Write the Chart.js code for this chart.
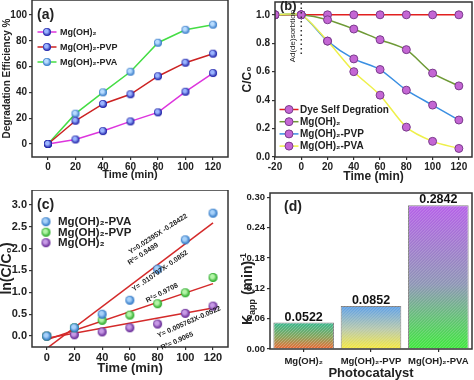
<!DOCTYPE html>
<html>
<head>
<meta charset="utf-8">
<script src="https://cdn.jsdelivr.net/npm/chart.js@4.4.1/dist/chart.umd.min.js"></script>
<style>
  body { margin: 0; background: #fff; width: 474px; height: 380px; position: relative; overflow: hidden; }
  .panel { position: absolute; width: 237px; height: 190px; }
</style>
</head>
<body>
<div class="panel" style="left:0;top:0"><canvas id="chartA" width="237" height="190"></canvas></div>
<div class="panel" style="left:237px;top:0"><canvas id="chartB" width="237" height="190"></canvas></div>
<div class="panel" style="left:0;top:190px"><canvas id="chartC" width="237" height="190"></canvas></div>
<div class="panel" style="left:237px;top:190px"><canvas id="chartD" width="237" height="190"></canvas></div>
<script>
// (a) degradation efficiency vs time
const timeMin = [0, 20, 40, 60, 80, 100, 120];
const effMg = [0, 3.5, 10, 17.5, 24.5, 40.5, 55];
const effPVP = [0, 18, 31, 38.5, 52.5, 63, 70];
const effPVA = [0, 23.5, 40, 56, 78.5, 88.5, 92.5];

// (b) C/C0 vs time, first point is the dark adsorption step
const timeB = [-20, 0, 20, 40, 60, 80, 100, 120];
const ratioDye = [1, 1, 1, 1, 1, 1, 1, 1];
const ratioMg = [1, 1, 0.965, 0.90, 0.825, 0.755, 0.59, 0.50];
const ratioPVP = [1, 1, 0.815, 0.69, 0.615, 0.47, 0.365, 0.26];
const ratioPVA = [1, 1, 0.815, 0.60, 0.435, 0.21, 0.11, 0.06];

// (c) kinetics
const lnPVA = [0, 0.19, 0.50, 0.82, 1.53, 2.20, 2.81];
const lnPVP = [0, 0.19, 0.36, 0.48, 0.74, 0.99, 1.34];
const lnMg = [0, 0.03, 0.095, 0.19, 0.275, 0.52, 0.685];
const fitSlope = [0.02395, 0.010707, 0.005763];
const fitIntercept = [-0.28422, -0.0852, -0.0522];

// (d) rate constants
const catalysts = ['Mg(OH)₂', 'Mg(OH)₂-PVP', 'Mg(OH)₂-PVA'];
const kApp = [0.0522, 0.0852, 0.2842];

Chart.defaults.font.family = "'Liberation Sans', Arial, sans-serif";
Chart.defaults.font.weight = 'bold';
Chart.defaults.color = '#222';
Chart.defaults.animation = false;
Chart.defaults.events = [];
Chart.defaults.plugins.legend.display = false;
Chart.defaults.plugins.tooltip.enabled = false;

function xy(xs, ys) {
  return xs.map((x, i) => ({ x: x, y: ys[i] }));
}

// little shaded ball used as marker
function sphere(r, light, dark) {
  const c = document.createElement('canvas');
  c.width = c.height = r * 2 + 2;
  const g = c.getContext('2d');
  const grad = g.createRadialGradient(r * 0.7 + 1, r * 0.65 + 1, r * 0.1, r + 1, r + 1, r);
  grad.addColorStop(0, light);
  grad.addColorStop(0.35, light);
  grad.addColorStop(1, dark);
  g.fillStyle = grad;
  g.beginPath();
  g.arc(r + 1, r + 1, r, 0, Math.PI * 2);
  g.fill();
  return c;
}

// fixed axis box sizes so the plot areas sit where they are in the figure
function fixSize(w, h) {
  return s => {
    if (w !== null) s.width = w;
    if (h !== null) s.height = h;
    s.paddingTop = s.paddingBottom = s.paddingLeft = s.paddingRight = 0;
  };
}

const tickGrid = { drawOnChartArea: false, drawTicks: true, tickLength: 3, color: '#333', lineWidth: 1.2 };

const framePlugin = {
  id: 'frame',
  afterDraw(chart) {
    const { ctx, chartArea: a } = chart;
    ctx.save();
    ctx.strokeStyle = '#333';
    ctx.lineWidth = 1.5;
    ctx.strokeRect(a.left, a.top, a.right - a.left, a.bottom - a.top);
    ctx.restore();
  }
};

// legend drawn inside the plot box
const boxLegend = {
  id: 'boxLegend',
  afterDraw(chart, args, opts) {
    if (!opts.rows) return;
    const ctx = chart.ctx;
    ctx.save();
    ctx.font = opts.font;
    ctx.textBaseline = 'middle';
    ctx.textAlign = 'left';
    opts.rows.forEach((idx, k) => {
      const ds = chart.data.datasets[idx];
      const y = opts.y + k * opts.gap;
      if (opts.line) {
        ctx.strokeStyle = ds.borderColor;
        ctx.lineWidth = 1.5;
        ctx.beginPath();
        ctx.moveTo(opts.x - opts.line / 2, y);
        ctx.lineTo(opts.x + opts.line / 2, y);
        ctx.stroke();
      }
      const ps = ds.pointStyle;
      if (ps && ps.getContext) {
        ctx.drawImage(ps, opts.x - ps.width / 2, y - ps.height / 2);
      } else {
        ctx.fillStyle = ds.pointBackgroundColor;
        ctx.strokeStyle = ds.pointBorderColor;
        ctx.lineWidth = 1;
        ctx.beginPath();
        ctx.arc(opts.x, y, 4, 0, Math.PI * 2);
        ctx.fill();
        ctx.stroke();
      }
      ctx.fillStyle = '#222';
      ctx.fillText(ds.label, opts.textX, y + 0.5);
    });
    ctx.restore();
  }
};

// free text: panel letters, fit equations
const notes = {
  id: 'notes',
  afterDraw(chart, args, opts) {
    if (!opts.items) return;
    const ctx = chart.ctx;
    opts.items.forEach(n => {
      ctx.save();
      ctx.translate(n.x, n.y);
      ctx.rotate((n.angle || 0) * Math.PI / 180);
      ctx.font = n.font;
      ctx.textAlign = n.align || 'center';
      ctx.textBaseline = 'middle';
      ctx.fillStyle = '#222';
      ctx.fillText(n.text, 0, 0);
      ctx.restore();
    });
  }
};

// ---------- (a) ----------
const ballBlue = sphere(4, '#9ab4ff', '#1212a0');
const ballSky = sphere(4, '#b8dcff', '#2a72c4');

new Chart(document.getElementById('chartA'), {
  type: 'line',
  data: {
    datasets: [
      { label: 'Mg(OH)₂', data: xy(timeMin, effMg), borderColor: '#dd35dd', pointStyle: ballBlue },
      { label: 'Mg(OH)₂-PVP', data: xy(timeMin, effPVP), borderColor: '#cc2222', pointStyle: ballBlue },
      { label: 'Mg(OH)₂-PVA', data: xy(timeMin, effPVA), borderColor: '#44dd44', pointStyle: ballSky }
    ]
  },
  options: {
    responsive: false,
    layout: { autoPadding: false, padding: { top: 0, right: 9, bottom: 0, left: 0 } },
    elements: { line: { borderWidth: 1.5, tension: 0 }, point: { radius: 4 } },
    scales: {
      x: {
        type: 'linear', min: -11.6, max: 130.9,
        ticks: { stepSize: 20, includeBounds: false, padding: 1, maxRotation: 0, font: { size: 10 } },
        grid: tickGrid, border: { display: false },
        title: { display: true, text: 'Time (min)', font: { size: 11 }, padding: { top: 0, bottom: 8.4 } },
        afterFit: fixSize(null, 33)
      },
      y: {
        min: -10.1, max: 111.6,
        ticks: { stepSize: 20, includeBounds: false, padding: 2, font: { size: 10 } },
        grid: tickGrid, border: { display: false },
        title: { display: true, text: 'Degradation Efficiency %', font: { size: 10 }, padding: { top: 1, bottom: 0 } },
        afterFit: fixSize(32, null)
      }
    },
    plugins: {
      boxLegend: { rows: [0, 1, 2], x: 47, y: 32, gap: 15, line: 19, textX: 60, font: "bold 9px 'Liberation Sans', Arial, sans-serif" },
      notes: { items: [{ text: '(a)', x: 37, y: 15, align: 'left', font: "bold 14px 'Liberation Sans', Arial, sans-serif" }] }
    }
  },
  plugins: [framePlugin, boxLegend, notes]
});

// ---------- (b) ----------
const adsorbPlugin = {
  id: 'adsorb',
  afterDatasetsDraw(chart) {
    const { ctx, scales: { x, y } } = chart;
    const px = x.getPixelForValue(0);
    ctx.save();
    ctx.strokeStyle = '#333';
    ctx.lineWidth = 1.5;
    ctx.setLineDash([1.5, 3]);
    ctx.beginPath();
    ctx.moveTo(px, chart.chartArea.top + 1);
    ctx.lineTo(px, y.getPixelForValue(0.71));
    ctx.stroke();
    ctx.setLineDash([]);
    ctx.translate(px - 8, y.getPixelForValue(0.85));
    ctx.rotate(-Math.PI / 2);
    ctx.font = "8px 'Liberation Sans', Arial, sans-serif";
    ctx.textAlign = 'center';
    ctx.textBaseline = 'middle';
    ctx.fillStyle = '#222';
    ctx.fillText('Ad(de)sorbtion', 0, 0);
    ctx.restore();
  }
};

const dotB = { pointBackgroundColor: '#c466d4', pointBorderColor: '#7a3a8c', pointBorderWidth: 1, pointRadius: 4 };

new Chart(document.getElementById('chartB'), {
  type: 'line',
  data: {
    datasets: [
      Object.assign({ label: 'Dye Self Degration', data: xy(timeB, ratioDye), borderColor: '#e21f1f', order: 4 }, dotB),
      Object.assign({ label: 'Mg(OH)₂', data: xy(timeB, ratioMg), borderColor: '#6e9a36', order: 3 }, dotB),
      Object.assign({ label: 'Mg(OH)₂-PVP', data: xy(timeB, ratioPVP), borderColor: '#3a8fe2', order: 2 }, dotB),
      Object.assign({ label: 'Mg(OH)₂-PVA', data: xy(timeB, ratioPVA), borderColor: '#eef04a', order: 1 }, dotB)
    ]
  },
  options: {
    responsive: false,
    layout: { autoPadding: false, padding: { top: 2, right: 2, bottom: 0, left: 0 } },
    elements: { line: { borderWidth: 1.5, tension: 0.25 } },
    scales: {
      x: {
        type: 'linear', min: -20, max: 130,
        ticks: { stepSize: 20, includeBounds: false, padding: 1, maxRotation: 0, font: { size: 10 } },
        grid: tickGrid, border: { display: false },
        title: { display: true, text: 'Time (min)', font: { size: 12 }, padding: { top: 0, bottom: 5.8 } },
        afterFit: fixSize(null, 33)
      },
      y: {
        min: 0, max: 1.09,
        ticks: { stepSize: 0.2, includeBounds: false, padding: 2, font: { size: 10 }, callback: v => v.toFixed(1) },
        grid: tickGrid, border: { display: false },
        title: { display: true, text: 'C/C₀', font: { size: 12 }, padding: { top: 3.8, bottom: 0 } },
        afterFit: fixSize(38, null)
      }
    },
    plugins: {
      boxLegend: { rows: [0, 1, 2, 3], x: 52, y: 109.5, gap: 12.2, line: 19, textX: 63, font: "bold 10px 'Liberation Sans', Arial, sans-serif" },
      notes: { items: [{ text: '(b)', x: 43, y: 6, align: 'left', font: "bold 13px 'Liberation Sans', Arial, sans-serif" }] }
    }
  },
  plugins: [framePlugin, adsorbPlugin, boxLegend, notes]
});

// ---------- (c) ----------
const fitLines = fitSlope.map((m, i) => ({
  data: [{ x: 0, y: fitIntercept[i] }, { x: 120, y: m * 120 + fitIntercept[i] }],
  showLine: true, borderColor: '#d42a2a', borderWidth: 1.5, pointRadius: 0
}));
const fitFont = "bold 7px 'Liberation Sans', Arial, sans-serif";

new Chart(document.getElementById('chartC'), {
  type: 'scatter',
  data: {
    datasets: [
      { label: 'Mg(OH)₂-PVA', data: xy(timeMin, lnPVA), pointStyle: sphere(4.5, '#a8d2fa', '#1f6cc0') },
      { label: 'Mg(OH)₂-PVP', data: xy(timeMin, lnPVP), pointStyle: sphere(4.5, '#b4f5a8', '#17a017') },
      { label: 'Mg(OH)₂', data: xy(timeMin, lnMg), pointStyle: sphere(4.5, '#c79ae6', '#5a1a8c') }
    ].concat(fitLines)
  },
  options: {
    responsive: false,
    layout: { autoPadding: false, padding: { top: 0, right: 9, bottom: 0, left: 0 } },
    scales: {
      x: {
        type: 'linear', min: -10.6, max: 130.8,
        ticks: { stepSize: 20, includeBounds: false, padding: 1, maxRotation: 0, font: { size: 11 } },
        grid: tickGrid, border: { display: false },
        title: { display: true, text: 'Time (min)', font: { size: 13, lineHeight: 1 }, padding: { top: 0, bottom: 5.5 } },
        afterFit: fixSize(null, 33)
      },
      y: {
        min: -0.25, max: 3.34,
        ticks: { stepSize: 0.5, includeBounds: false, padding: 2, font: { size: 11 }, callback: v => v.toFixed(1) },
        grid: tickGrid, border: { display: false },
        title: { display: true, text: 'ln(C/C₀)', font: { size: 14, lineHeight: 1 }, padding: { top: 0, bottom: 0 } },
        afterFit: fixSize(32, null)
      }
    },
    plugins: {
      boxLegend: { rows: [0, 1, 2], x: 46, y: 31.7, gap: 10.5, line: 0, textX: 58, font: "bold 11.5px 'Liberation Sans', Arial, sans-serif" },
      notes: {
        items: [
          { text: '(c)', x: 37, y: 15, align: 'left', font: "bold 14px 'Liberation Sans', Arial, sans-serif" },
          { text: 'Y=0.02395X -0.28422', x: 158, y: 44, angle: -33, font: fitFont },
          { text: 'R²= 0.9499', x: 143, y: 64, angle: -33, font: fitFont },
          { text: 'Y= .010707X- 0.0852', x: 160, y: 81, angle: -35, font: fitFont },
          { text: 'R²= 0.9708', x: 162, y: 103, angle: -27, font: fitFont },
          { text: 'Y= 0.005763X-0.0522', x: 189, y: 132, angle: -24, font: fitFont },
          { text: 'R²= 0.9065', x: 177, y: 151, angle: -24, font: fitFont }
        ]
      }
    }
  },
  plugins: [framePlugin, boxLegend, notes]
});

// ---------- (d) ----------
const barTop = ['#36b98f', '#5a9ee8', '#b45ee8'];
const barMid = ['#8aa45a', '#b8c8a8', '#8c94b4'];
const barBottom = ['#ee6a36', '#f6e83a', '#3ce83a'];

function barFill(c) {
  const { chart, dataIndex } = c;
  const area = chart.chartArea;
  if (!area || !chart.scales.y) return barTop[dataIndex];
  const yTop = chart.scales.y.getPixelForValue(kApp[dataIndex]);
  const g = chart.ctx.createLinearGradient(0, yTop, 0, area.bottom);
  g.addColorStop(0, barTop[dataIndex]);
  g.addColorStop(0.55, barMid[dataIndex]);
  g.addColorStop(1, barBottom[dataIndex]);
  return g;
}

const barDecor = {
  id: 'barDecor',
  afterDatasetsDraw(chart) {
    const ctx = chart.ctx;
    const meta = chart.getDatasetMeta(0);
    meta.data.forEach((bar, i) => {
      const left = bar.x - bar.width / 2;
      const h = bar.base - bar.y;
      // hatching
      ctx.save();
      ctx.beginPath();
      ctx.rect(left, bar.y, bar.width, h);
      ctx.clip();
      ctx.strokeStyle = 'rgba(255,255,255,0.32)';
      ctx.lineWidth = 0.8;
      ctx.beginPath();
      for (let s = -h; s < bar.width + h; s += 3) {
        ctx.moveTo(left + s, bar.base);
        ctx.lineTo(left + s + h, bar.y);
      }
      ctx.stroke();
      ctx.restore();
      // value on top
      ctx.save();
      ctx.font = "bold 12.5px 'Liberation Sans', Arial, sans-serif";
      ctx.textAlign = 'center';
      ctx.textBaseline = 'alphabetic';
      ctx.fillStyle = '#111';
      ctx.fillText(kApp[i].toFixed(4), bar.x, bar.y - 2);
      ctx.restore();
    });
    // y title with sub/superscript
    ctx.save();
    ctx.translate(15, 99);
    ctx.rotate(-Math.PI / 2);
    ctx.fillStyle = '#222';
    ctx.textBaseline = 'alphabetic';
    ctx.textAlign = 'left';
    const big = "bold 14px 'Liberation Sans', Arial, sans-serif";
    const small = "bold 9px 'Liberation Sans', Arial, sans-serif";
    const parts = [['K', big, 0], ['app', small, 3], [' (min)', big, 0], ['-1', small, -6]];
    let w = 0;
    parts.forEach(p => { ctx.font = p[1]; w += ctx.measureText(p[0]).width; });
    let cx = -w / 2;
    parts.forEach(p => {
      ctx.font = p[1];
      ctx.fillText(p[0], cx, p[2]);
      cx += ctx.measureText(p[0]).width;
    });
    ctx.restore();
  }
};

new Chart(document.getElementById('chartD'), {
  type: 'bar',
  data: {
    labels: catalysts,
    datasets: [{ data: kApp, backgroundColor: barFill, borderColor: 'rgba(70,70,70,0.7)', borderWidth: 1, categoryPercentage: 1, barPercentage: 0.9 }]
  },
  options: {
    responsive: false,
    layout: { autoPadding: false, padding: { top: 3, right: 2, bottom: 0, left: 0 } },
    scales: {
      x: {
        ticks: { padding: 3.5, maxRotation: 0, autoSkip: false, font: { size: 9.5 } },
        grid: Object.assign({}, tickGrid, { offset: false }), border: { display: false },
        title: { display: true, text: 'Photocatalyst', font: { size: 13, lineHeight: 1 }, padding: { top: 0, bottom: 0.5 } },
        afterFit: fixSize(null, 31)
      },
      y: {
        min: 0, max: 0.3085,
        ticks: { stepSize: 0.06, includeBounds: false, padding: 2, font: { size: 9.5 }, callback: v => v.toFixed(2) },
        grid: tickGrid, border: { display: false },
        afterFit: fixSize(33, null)
      }
    },
    plugins: {
      notes: { items: [{ text: '(d)', x: 47, y: 17, align: 'left', font: "bold 14px 'Liberation Sans', Arial, sans-serif" }] }
    }
  },
  plugins: [framePlugin, barDecor, notes]
});
</script>
</body>
</html>
